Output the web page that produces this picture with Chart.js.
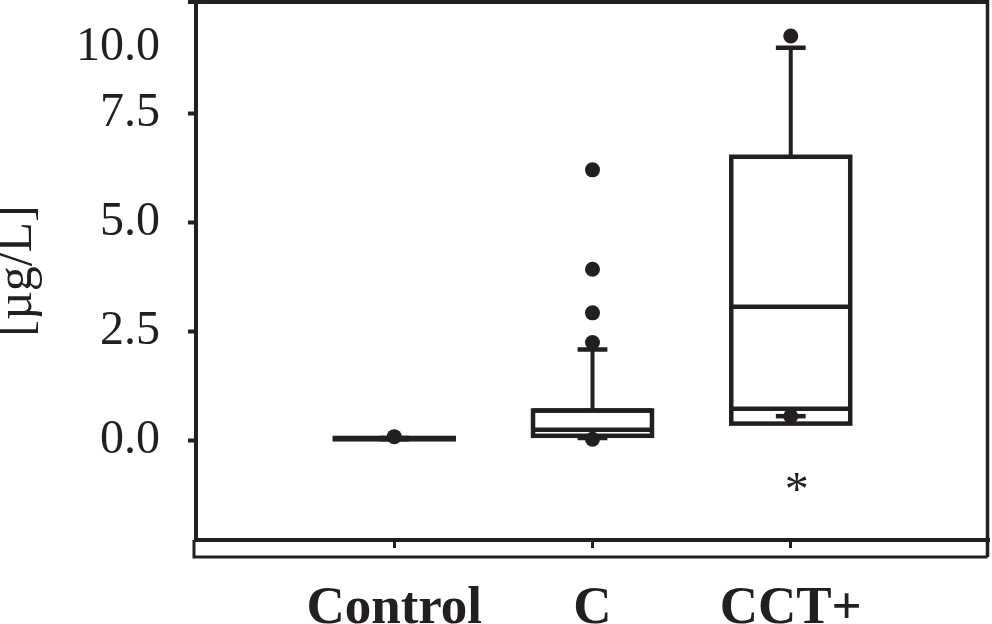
<!DOCTYPE html>
<html>
<head>
<meta charset="utf-8">
<title>[µg/L] box plot</title>
<script src="https://cdn.jsdelivr.net/npm/chart.js@4.4.1/dist/chart.umd.min.js"></script>
<style>
  html, body { margin: 0; padding: 0; background: #fff; }
  #wrap { width: 992px; height: 624px; position: relative; }
</style>
</head>
<body>
<div id="wrap"><canvas id="boxChart"></canvas></div>
<script>
/* ==========================================
   DATA
   ========================================== */

const categories = ['Control', 'C', 'CCT+'];

// box edges, inner lines and whisker ends per group
const boxLow = [0.02, 0.10, 0.38];
const boxHigh = [0.05, 0.68, 6.50];
const medians = [0.03, 0.24, 0.72];
const means = [0.03, 0.68, 3.06];
const whiskerLow = [0.02, 0.05, 0.55];
const whiskerHigh = [0.05, 2.08, 9.00];

// single points beyond the whiskers
const outliers = [
  [0.08],
  [6.20, 3.92, 2.92, 2.24, 0.02],
  [9.27, 0.55]
];

// significance mark under CCT+
const markX = [2.03];
const markY = [-0.96];
const markText = ['*'];

// y axis: where the labels sit and what they say
const yTickValues = [0, 2.5, 5, 7.5, 9.0];
const yTickLabels = ['0.0', '2.5', '5.0', '7.5', '10.0'];

/* ==========================================
   STYLE
   ========================================== */

const INK = '#231f20';
const SERIF = '"Liberation Serif", "Times New Roman", serif';

/* ==========================================
   PLUGINS
   ========================================== */

/**
 * Boxes, inner lines and whiskers, drawn through the scales
 */
const boxPlotPlugin = {
  id: 'boxPlot',
  beforeDatasetsDraw(chart) {
    const { ctx } = chart;
    const xs = chart.scales.x;
    const ys = chart.scales.y;
    const halfBox = 0.30;
    const halfCap = 0.075;

    ctx.save();
    ctx.strokeStyle = INK;
    ctx.lineCap = 'butt';

    categories.forEach((name, i) => {
      const left = xs.getPixelForValue(i - halfBox);
      const right = xs.getPixelForValue(i + halfBox);
      const mid = xs.getPixelForValue(i);
      const capL = xs.getPixelForValue(i - halfCap);
      const capR = xs.getPixelForValue(i + halfCap);
      const top = ys.getPixelForValue(boxHigh[i]);
      const bottom = ys.getPixelForValue(boxLow[i]);

      // whiskers
      ctx.lineWidth = 4;
      ctx.beginPath();
      ctx.moveTo(mid, top);
      ctx.lineTo(mid, ys.getPixelForValue(whiskerHigh[i]));
      ctx.moveTo(mid, bottom);
      ctx.lineTo(mid, ys.getPixelForValue(whiskerLow[i]));
      ctx.stroke();

      ctx.lineWidth = 4.5;
      ctx.beginPath();
      [whiskerHigh[i], whiskerLow[i]].forEach(v => {
        const y = ys.getPixelForValue(v);
        ctx.moveTo(capL, y);
        ctx.lineTo(capR, y);
      });
      ctx.stroke();

      // box
      ctx.fillStyle = '#fff';
      ctx.fillRect(left, top, right - left, bottom - top);
      ctx.strokeRect(left, top, right - left, bottom - top);

      // median and mean lines
      ctx.beginPath();
      [medians[i], means[i]].forEach(v => {
        const y = ys.getPixelForValue(v);
        ctx.moveTo(left, y);
        ctx.lineTo(right, y);
      });
      ctx.stroke();

      // lower whisker cap sits inside the CCT+ box, redraw it on top
      if (whiskerLow[i] > boxLow[i]) {
        const y = ys.getPixelForValue(whiskerLow[i]);
        ctx.beginPath();
        ctx.moveTo(capL, y);
        ctx.lineTo(capR, y);
        ctx.stroke();
      }
    });

    ctx.restore();
  }
};

/**
 * Top/right frame, the strip under the x axis and the asterisk
 */
const framePlugin = {
  id: 'frame',
  afterDraw(chart) {
    const { ctx, chartArea } = chart;
    const xs = chart.scales.x;
    const ys = chart.scales.y;
    const stripBottom = chartArea.bottom + 17;

    ctx.save();
    ctx.strokeStyle = INK;

    // top edge
    ctx.lineWidth = 4;
    ctx.beginPath();
    ctx.moveTo(chartArea.left - 8, chartArea.top);
    ctx.lineTo(chartArea.right, chartArea.top);
    ctx.stroke();

    // right edge down to the strip
    ctx.lineWidth = 3.5;
    ctx.beginPath();
    ctx.moveTo(chartArea.right - 1.5, chartArea.top - 2);
    ctx.lineTo(chartArea.right - 1.5, stripBottom);
    ctx.stroke();

    // strip below the axis
    ctx.lineWidth = 3;
    ctx.beginPath();
    ctx.moveTo(chartArea.left - 2, chartArea.bottom);
    ctx.lineTo(chartArea.left - 2, stripBottom);
    ctx.lineTo(chartArea.right - 1.5, stripBottom);
    ctx.stroke();

    // significance marks
    ctx.fillStyle = INK;
    ctx.font = '48px ' + SERIF;
    ctx.textAlign = 'center';
    ctx.textBaseline = 'alphabetic';
    markText.forEach((t, i) => {
      const m = ctx.measureText(t);
      const shift = (m.actualBoundingBoxAscent - m.actualBoundingBoxDescent) / 2;
      ctx.fillText(t, xs.getPixelForValue(markX[i]), ys.getPixelForValue(markY[i]) + shift);
    });

    ctx.restore();
  }
};

/* ==========================================
   CHART
   ========================================== */

function initChart() {
  const canvas = document.getElementById('boxChart');

  const points = [];
  outliers.forEach((vals, i) => {
    vals.forEach(v => points.push({ x: i, y: v }));
  });

  new Chart(canvas, {
    type: 'scatter',
    data: {
      datasets: [{
        label: 'outliers',
        data: points,
        pointRadius: 7.5,
        pointHoverRadius: 7.5,
        pointBackgroundColor: INK,
        pointBorderWidth: 0
      }]
    },
    options: {
      responsive: true,
      maintainAspectRatio: false,
      animation: false,
      events: [],
      layout: {
        autoPadding: false,
        padding: { top: 2, right: 3, left: 0, bottom: 0 }
      },
      plugins: {
        legend: { display: false },
        tooltip: { enabled: false }
      },
      scales: {
        x: {
          type: 'linear',
          min: -1,
          max: 3,
          afterBuildTicks(scale) {
            scale.ticks = categories.map((c, i) => ({ value: i }));
          },
          afterFit(scale) {
            scale.height = 84;
            scale.paddingLeft = 0;
            scale.paddingRight = 0;
          },
          ticks: {
            callback: (v) => categories[v],
            color: INK,
            padding: 30,
            maxRotation: 0,
            autoSkip: false,
            font: { family: SERIF, size: 53, weight: 'bold' }
          },
          grid: {
            drawOnChartArea: false,
            drawTicks: true,
            tickLength: 8,
            tickWidth: 3,
            tickColor: INK
          },
          border: { display: true, color: INK, width: 4 }
        },
        y: {
          type: 'linear',
          min: -2.29,
          max: 10.05,
          afterBuildTicks(scale) {
            scale.ticks = yTickValues.map(v => ({ value: v }));
          },
          afterFit(scale) {
            scale.width = 196;
            scale.paddingTop = 0;
            scale.paddingBottom = 0;
          },
          ticks: {
            callback: (v) => yTickLabels[yTickValues.indexOf(v)],
            color: INK,
            padding: 28,
            font: { family: SERIF, size: 48 }
          },
          grid: {
            drawOnChartArea: false,
            drawTicks: true,
            tickLength: 8,
            tickWidth: 4,
            tickColor: (ctx) => ctx.index === yTickValues.length - 1 ? 'rgba(0,0,0,0)' : INK
          },
          border: { display: true, color: INK, width: 4 },
          title: {
            display: true,
            text: '[µg/L]',
            color: INK,
            padding: 0,
            font: { family: SERIF, size: 50, lineHeight: 0.7 }
          }
        }
      }
    },
    plugins: [boxPlotPlugin, framePlugin]
  });
}

document.addEventListener('DOMContentLoaded', () => {
  initChart();
});
</script>
</body>
</html>
